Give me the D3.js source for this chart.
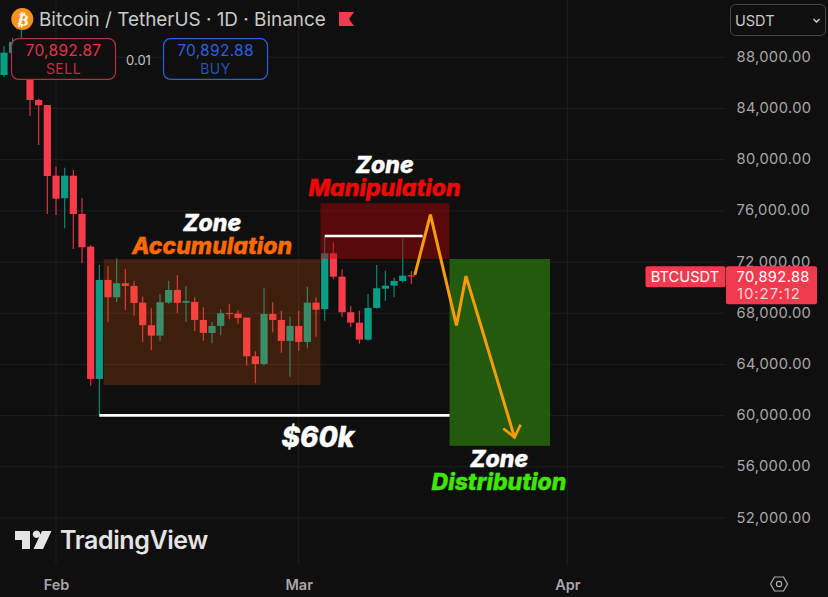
<!DOCTYPE html>
<html><head><meta charset="utf-8">
<style>html,body{margin:0;padding:0;background:#0f0f0f;overflow:hidden}svg{display:block}text{font-family:Inter,"Noto Sans",sans-serif}</style>
<script src="https://cdn.jsdelivr.net/npm/d3@7/dist/d3.min.js"></script></head><body>
<script>
// day = days after 26 Jan
const opens=[86618,88336,88900,88571,84665,84274,78750,76985,78750,75759,73204,62868,70602,69250,70344,70133,68829,67063,66250,68829,69821,68829,68883,67477,66461,67008,68024,67969,67657,64641,64040,67945,67477,65836,67008,65758,68829,68313,72688,70860,68079,67266,65938,68415,69922,70157,70524,70969];
const closes=[88360,89196,89300,84665,84250,78727,76953,78750,75759,73156,62868,70602,69250,70344,70133,68805,67063,66250,68860,69821,68805,68961,67477,66461,67008,68000,67969,67633,64641,64040,67945,67477,65836,67008,65758,68829,68282,72688,70860,68079,67266,65938,68415,69953,70157,70524,70938,70914];
const highs=[88883,89532,90133,88961,84766,84274,79453,79375,79196,77008,73336,71774,71695,72297,71461,70524,69297,68391,69485,70547,70993,70133,69250,68469,67321,68313,68703,68235,67657,65032,69953,68860,68204,67735,68204,70079,69250,73985,73547,71438,68571,68204,69508,71774,71329,70782,73860,71305];
const lows=[86485,88258,88300,83415,81149,75759,75680,74641,73024,71930,62344,60055,67297,68883,68258,67813,65782,65133,65860,68751,68000,67321,66617,65860,65657,66282,67532,67188,63907,62532,63907,66516,64922,63047,65078,65266,66172,67422,70657,67735,66930,65625,65860,68360,68985,69250,70391,70313];
const priceTicks=[88000,84000,80000,76000,72000,68000,64000,60000,56000,52000];
const timeTickDays=[6,34,65];
const timeTickLabels=["Feb","Mar","Apr"];
const lastPrice=70892.88;
// zones: [dayStart, dayEnd, priceTop, priceBottom]
const accumulationZone=[11.5,36.5,72240,62400];
const manipulationZone=[36.5,51.4,76600,72240];
const distributionZone=[51.4,63,72240,57640];
const supportLine=[[11,60020],[51.4,60020]];
const highLine=[[37,74040],[48.3,74040]];
const pathDays=[47.4,49.2,52.2,53.3,58.9];
const pathPrices=[71000,75700,67050,70900,58300];
const arrowDays=[57.6,58.9,59.6];
const arrowPrices=[59000,58300,59300];

const W=828,H=597;
const x=d3.scaleLinear().domain([0,65]).range([4,567.4]);
const y=d3.scaleLinear().domain([88000,52000]).range([57.3,518]);
const svg=d3.select("body").append("svg").attr("width",W).attr("height",H).style("background","#0f0f0f");
const gridCol="#1f1f1f";

// grid
svg.append("g").selectAll("line").data(priceTicks).join("line")
 .attr("x1",0).attr("x2",725).attr("y1",d=>y(d)).attr("y2",d=>y(d)).attr("stroke",gridCol);
svg.append("g").selectAll("line").data(timeTickDays).join("line")
 .attr("x1",d=>x(d)).attr("x2",d=>x(d)).attr("y1",0).attr("y2",565).attr("stroke",gridCol);

// candles
const cs=d3.range(opens.length).map(i=>({i,o:opens[i],c:closes[i],h:highs[i],l:lows[i]}));
const UP="#0a9c84",DN="#f93a4b";
const g=svg.append("g");
g.selectAll("line").data(cs).join("line")
 .attr("x1",d=>x(d.i)).attr("x2",d=>x(d.i)).attr("y1",d=>y(d.h)).attr("y2",d=>y(d.l))
 .attr("stroke",d=>d.c>=d.o?UP:DN).attr("stroke-width",1.2).attr("stroke-opacity",.85);
g.selectAll("rect").data(cs).join("rect")
 .attr("x",d=>x(d.i)-3.6).attr("width",7.2)
 .attr("y",d=>y(Math.max(d.o,d.c))).attr("height",d=>Math.max(1.2,Math.abs(y(d.o)-y(d.c))))
 .attr("fill",d=>d.c>=d.o?UP:DN);

// zones
function zone(z,fill,op){
 svg.append("rect").attr("x",x(z[0])).attr("width",x(z[1])-x(z[0])).attr("y",y(z[2])).attr("height",y(z[3])-y(z[2])).attr("fill",fill).attr("fill-opacity",op);
}
zone(accumulationZone,"#f3600a",.21);
zone(manipulationZone,"#b90303",.43);
zone(distributionZone,"#245a0e",1);

// lines
const ln=d3.line().x(d=>x(d[0])).y(d=>y(d[1]));
[supportLine,highLine].forEach(l=>svg.append("path").attr("d",ln(l)).attr("stroke","#fff").attr("stroke-width",2.6).attr("fill","none"));
const orange="#f99b0a";
svg.append("path").attr("d",ln(pathDays.map((d,i)=>[d,pathPrices[i]]))).attr("stroke",orange).attr("stroke-width",3).attr("fill","none").attr("stroke-linejoin","miter");
svg.append("path").attr("d",ln(arrowDays.map((d,i)=>[d,arrowPrices[i]]))).attr("stroke",orange).attr("stroke-width",2.6).attr("fill","none");

// axes
const yAxis=d3.axisRight(y).tickValues(priceTicks).tickSize(0).tickPadding(0).tickFormat(d3.format(",.2f"));
const ya=svg.append("g").attr("transform","translate(736.5,-0.7)").call(yAxis);
ya.select(".domain").remove();
ya.selectAll("text").attr("fill","#a8a8a8").style("font-size","14.7px").style("font-family","Inter").style("letter-spacing",".35px");
const xAxis=d3.axisBottom(x).tickValues(timeTickDays).tickSize(0).tickPadding(0).tickFormat((d,i)=>timeTickLabels[i]);
const xa=svg.append("g").attr("transform","translate(0,579.5)").call(xAxis);
xa.select(".domain").remove();
xa.selectAll("text").attr("fill","#a8a8a8").style("font-size","14.5px").style("font-weight","600").style("font-family","Inter");

// last price
const py=y(lastPrice);
svg.append("rect").attr("x",645.5).attr("y",py-10).attr("width",80).attr("height",21).attr("rx",2).attr("fill","#f23a4e");
svg.append("text").attr("x",685).attr("y",py+5.5).attr("text-anchor","middle").attr("fill","#fff").attr("font-size",14.7).text("BTCUSDT");
svg.append("rect").attr("x",726).attr("y",py-10).attr("width",91).attr("height",38).attr("rx",2).attr("fill","#f23a4e");
svg.append("text").attr("x",736.5).attr("y",py+5.5).attr("fill","#fff").attr("font-size",14.7).style("letter-spacing",".35px").text(d3.format(",.2f")(lastPrice));
svg.append("text").attr("x",737).attr("y",py+22.5).attr("fill","#ffd0d5").attr("font-size",15).style("letter-spacing",".9px").text("10:27:12");

// header
svg.append("circle").attr("cx",22.3).attr("cy",19).attr("r",11).attr("fill","#f7931a");
svg.append("text").attr("transform","translate(22.3,25) rotate(12)").attr("text-anchor","middle").attr("fill","#fff").attr("font-size",16).attr("font-weight",700).style("font-family","'DejaVu Sans'").text("₿");
svg.append("text").attr("x",39).attr("y",26).attr("fill","#c9c9c9").attr("font-size",18.9).text("Bitcoin / TetherUS · 1D · Binance");
svg.append("path").attr("d","M339 12H354L349 19L354 26H339Z").attr("fill","#f23a4e");

function badge(bx,col,strokeCol,val,lab){
 svg.append("rect").attr("x",bx).attr("y",38.7).attr("width",104).attr("height",40.6).attr("rx",7).attr("fill","#0f0f0f").attr("stroke",strokeCol).attr("stroke-width",1.2);
 svg.append("text").attr("x",bx+52).attr("y",56).attr("text-anchor","middle").attr("fill",col).attr("font-size",15.5).style("letter-spacing",".3px").text(val);
 svg.append("text").attr("x",bx+52).attr("y",73.5).attr("text-anchor","middle").attr("fill",col).attr("fill-opacity",.85).attr("font-size",14).style("letter-spacing",".5px").text(lab);
}
badge(11.5,"#e2334a","#b03345","70,892.87","SELL");
badge(163.5,"#2c5fdc","#2c5fdc","70,892.88","BUY");
svg.append("text").attr("x",138.5).attr("y",64.5).attr("text-anchor","middle").attr("fill","#c0c0c0").attr("font-size",13).text("0.01");

svg.append("rect").attr("x",730.5).attr("y",4.5).attr("width",95).attr("height",31).attr("rx",5).attr("fill","#0f0f0f").attr("stroke","#484848");
svg.append("text").attr("x",735).attr("y",25.5).attr("fill","#c9c9c9").attr("font-size",14.5).text("USDT");
svg.append("path").attr("d","M813.5 19L816.5 22L819.5 19").attr("fill","none").attr("stroke","#d0d0d0").attr("stroke-width",1.4);

// annotations
function lab(cx,by,t,col,fs){
 svg.append("text").attr("x",cx).attr("y",by).attr("text-anchor","middle").attr("fill",col).attr("stroke",col).attr("stroke-width",.4)
  .attr("font-size",fs).attr("font-weight",800).attr("font-style","italic").text(t);
}
lab(212,231,"Zone","#fff",23);lab(212,254,"Accumulation","#ff6a00",23);
lab(384.5,172.5,"Zone","#fff",23);lab(384.5,195.5,"Manipulation","#f00808",23);
lab(499,466.5,"Zone","#fff",23);lab(499,490,"Distribution","#3fe600",23);
lab(318,447,"$60k","#fff",28);

// TradingView logo
svg.append("path").attr("d","M15 531H30V549H22V540H15Z M36.5 538a3.8 3.8 0 1 1 0.01 0Z M42 531H51.5L43 549H33.5Z").attr("fill","#e4e4e4");
svg.append("text").attr("x",60).attr("y",549).attr("fill","#e4e4e4").attr("font-size",25).attr("font-weight",600).style("letter-spacing","-.4px").text("TradingView");

// settings icon
svg.append("path").attr("d","M770.5 584L774.5 577H783.5L787.5 584L783.5 591H774.5Z").attr("fill","none").attr("stroke","#b0b0b0").attr("stroke-width",1.2);
svg.append("circle").attr("cx",779).attr("cy",584).attr("r",2.6).attr("fill","none").attr("stroke","#b0b0b0").attr("stroke-width",1.2);
</script></body></html>
